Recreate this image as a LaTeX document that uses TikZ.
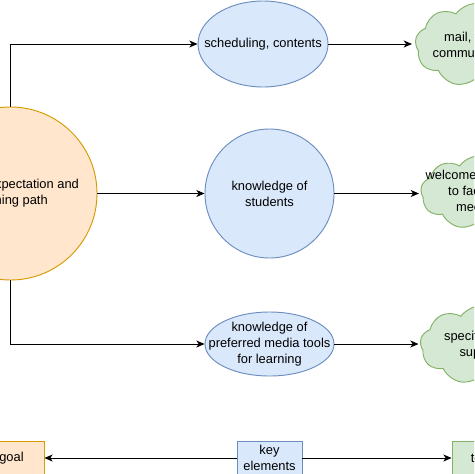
\documentclass[tikz,border=0pt]{standalone}
\usepackage{fontspec}
\setmainfont{Liberation Sans}
\usetikzlibrary{shapes.geometric,shapes.symbols,arrows.meta}
\definecolor{orfill}{HTML}{FFE6CC}
\definecolor{ordraw}{HTML}{D79B00}
\definecolor{blfill}{HTML}{DAE8FC}
\definecolor{bldraw}{HTML}{6C8EBF}
\definecolor{grfill}{HTML}{D5E8D4}
\definecolor{grdraw}{HTML}{82B366}
\begin{document}
\begin{tikzpicture}[x=0.03cm,y=-0.03cm,font=\fontsize{11}{13.7}\selectfont,every node/.style={align=center,inner sep=0pt,line width=0.8pt},goalshape/.style={draw=ordraw,fill=orfill},keyshape/.style={draw=bldraw,fill=blfill},toolshape/.style={draw=grdraw,fill=grfill},cloudy/.style={toolshape,cloud,cloud puffs=9,cloud puff arc=110,cloud ignores aspect},box/.style={rectangle,minimum width=1.95cm,minimum height=1.02cm},link/.style={line width=0.8pt,-{Stealth[length=7pt,width=6pt,inset=2pt]}}]
\useasboundingbox (0,0) rectangle (474,474);
\clip (0,0) rectangle (474,474);
\node[goalshape,circle,minimum size=5.19cm] (expect) at (10.5,193.5) {student expectation and\\learning path};
\node[keyshape,ellipse,minimum width=3.9cm,minimum height=2.58cm,label={center:{scheduling, contents}}] (sched) at (263,44) {};
\node[keyshape,circle,minimum size=3.87cm] (students) at (269.5,193.5) {knowledge of\\students};
\node[keyshape,ellipse,minimum width=3.87cm,minimum height=1.92cm,label={center:{knowledge of\\preferred media tools\\for learning}}] (media) at (269.5,344) {};
\node[cloudy,minimum width=3.65cm,minimum height=2.49cm,label={center:{mail, forum\\communication}}] (mailcl) at (476,45) {};
\node[cloudy,minimum width=3.5cm,minimum height=2.2cm,label={center:{welcome message\\to facilitate\\meeting}}] (welcome) at (479,192.5) {};
\node[cloudy,minimum width=3.65cm,minimum height=2.35cm,label={center:{specific tools\\support}}] (support) at (481,345) {};
\node[goalshape,box] (goal) at (11.5,458) {goal};
\node[keyshape,box] (keyel) at (269.5,458) {key\\elements};
\node[toolshape,box] (tools) at (484.5,458) {tools};
\draw[link] (expect.north) |- (sched.west);
\draw[link] (expect.east) -- (students.west);
\draw[link] (expect.south) |- (media.west);
\draw[link,shorten >=0.1cm] (sched.east) -- (sched.east -| mailcl.west);
\draw[link,shorten >=0.05cm] (students.east) -- (students.east -| welcome.west);
\draw[link,shorten >=0.05cm] (media.east) -- (media.east -| support.west);
\draw[link] (keyel.west) -- (goal.east);
\draw[link] (keyel.east) -- (tools.west);
\end{tikzpicture}
\end{document}
